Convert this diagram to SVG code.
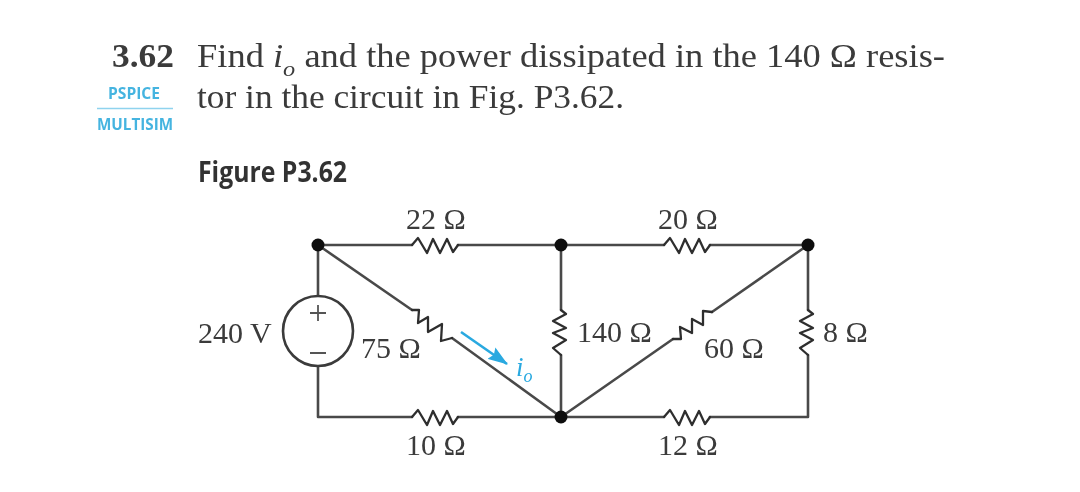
<svg xmlns="http://www.w3.org/2000/svg" width="1080" height="492" viewBox="0 0 1080 492">
<defs>
<style>
.w{fill:none;stroke:#4a4a4a;stroke-width:2.6;stroke-linejoin:round;stroke-linecap:round}
.r{fill:none;stroke:#2e2e2e;stroke-width:2.3;stroke-linejoin:round;stroke-linecap:round}
.n{fill:#111}
text{font-family:"Liberation Serif","Times New Roman",serif;fill:#3a3a3a}
.b{font-size:33px}
.l{font-size:30px}
.s{font-family:"Open Sans","Liberation Sans",sans-serif;font-weight:700;fill:#45b4e0;font-size:16px}
.f{font-family:"Open Sans","Liberation Sans",sans-serif;font-weight:700;fill:#333;font-size:28px}
</style>
<filter id="soft" x="0" y="0" width="100%" height="100%"><feGaussianBlur stdDeviation="0.55"/></filter>
<marker id="ah" markerWidth="20" markerHeight="14" refX="19" refY="7" orient="auto" markerUnits="userSpaceOnUse"><path d="M0 0L20 7L0 14L3 7Z" fill="#29a9e0"/></marker>
</defs>
<rect width="1080" height="492" fill="#fff"/>
<g filter="url(#soft)">
<g id="problem-text">
<text x="112" y="67" class="b" style="font-weight:700" textLength="62" lengthAdjust="spacingAndGlyphs">3.62</text>
<text x="197" y="67" class="b" textLength="748" lengthAdjust="spacingAndGlyphs">Find <tspan font-style="italic">i</tspan><tspan font-style="italic" font-size="22" dy="9">o</tspan><tspan dy="-9"> and the power dissipated in the 140 Ω resis-</tspan></text>
<text x="197" y="108" class="b" textLength="427" lengthAdjust="spacingAndGlyphs">tor in the circuit in Fig. P3.62.</text>
<text x="108" y="99" class="s" textLength="52" lengthAdjust="spacingAndGlyphs">PSPICE</text>
<line x1="97" y1="108.500" x2="173" y2="108.500" stroke="#8fd3ee" stroke-width="1.500"/>
<text x="97" y="130" class="s" textLength="76" lengthAdjust="spacingAndGlyphs">MULTISIM</text>
<text x="198" y="182" class="f" textLength="149" lengthAdjust="spacingAndGlyphs">Figure P3.62</text>
</g>
<g id="connectors">
<path class="w" d="M318 245H412M458 245H561M561 245H664M710 245H808"/>
<path class="w" d="M318 296V245M318 366V417H412M458 417H664M710 417H808V355M808 310V245"/>
<path class="w" d="M561 245V310M561 355V417"/>
<path class="w" d="M318 245L412 310M452 338L561 417M561 417L673 339M712 312L808 245"/>
<line x1="461" y1="332" x2="507" y2="364" stroke="#29a9e0" stroke-width="2.600" marker-end="url(#ah)"/>
</g>
<g id="r22"><path class="r" d="M412 245L418 238L427 253L433 239L440 253L447 239L453 252L458 245"/><text class="l" x="436" y="229" text-anchor="middle">22 Ω</text></g>
<g id="r20"><path class="r" d="M664 245L670 238L679 253L685 239L692 253L699 239L705 252L710 245"/><text class="l" x="688" y="229" text-anchor="middle">20 Ω</text></g>
<g id="r10"><path class="r" d="M412 417L418 410L427 425L433 411L440 425L447 411L453 424L458 417"/><text class="l" x="436" y="455" text-anchor="middle">10 Ω</text></g>
<g id="r12"><path class="r" d="M664 417L670 410L679 425L685 411L692 425L699 411L705 424L710 417"/><text class="l" x="688" y="455" text-anchor="middle">12 Ω</text></g>
<g id="r140"><path class="r" d="M561 310L566 314L553 321L566 328L553 333L566 340L553 348L561 355"/><text class="l" x="577" y="342">140 Ω</text></g>
<g id="r8"><path class="r" d="M808 310L813 314L800 321L813 328L800 333L813 340L800 348L808 355"/><text class="l" x="823" y="342">8 Ω</text></g>
<g id="r75"><path class="r" d="M412 310L419 310L418 323L428 317L428 332L442 324L441 341L452 338"/><text class="l" x="361" y="358">75 Ω</text></g>
<g id="r60"><path class="r" d="M673 339L681 339L680 327L692 333L692 319L703 325L703 311L712 312"/><text class="l" x="704" y="358">60 Ω</text></g>
<g id="source"><circle cx="318" cy="331" r="35" fill="#fff" stroke="#3a3a3a" stroke-width="2.600"/><path d="M310 313H326M318 305V321M310 353H326" stroke="#555" stroke-width="1.800" fill="none"/><text class="l" x="198" y="343">240 V</text></g>
<g id="io-label"><text x="516" y="376" font-size="27" font-style="italic" style="fill:#29a9e0">i<tspan font-size="18" dy="6">o</tspan></text></g>
<g id="node-tl"><circle class="n" cx="318" cy="245" r="6.500"/></g>
<g id="node-tm"><circle class="n" cx="561" cy="245" r="6.500"/></g>
<g id="node-tr"><circle class="n" cx="808" cy="245" r="6.500"/></g>
<g id="node-bm"><circle class="n" cx="561" cy="417" r="6.500"/></g>
</g>
</svg>
